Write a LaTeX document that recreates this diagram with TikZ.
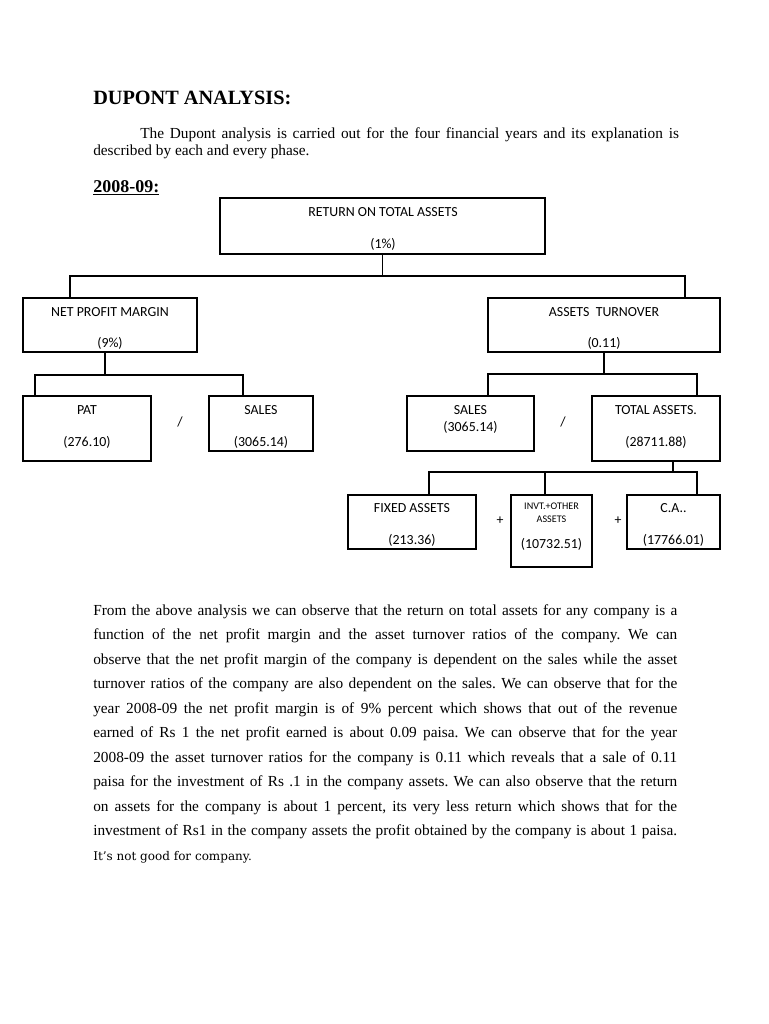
\documentclass[tikz,border=0pt]{standalone}
\usepackage{fontspec}
\setmainfont{Liberation Serif}
\newfontfamily\calfont{Carlito}
\newfontfamily\cambfont{DejaVu Serif}
\usetikzlibrary{fit}
\newcommand\jline[2]{\makebox[#1][s]{#2}}
\frenchspacing
\begin{document}
\begin{tikzpicture}[x=0.75pt,y=-0.75pt,
  box/.style={draw, line width=1pt, inner sep=0pt},
  lbl/.style={inner sep=0pt, font=\calfont\fontsize{10.4}{12}\selectfont},
  tiny/.style={inner sep=0pt, font=\calfont\fontsize{7.6}{9}\selectfont},
  conn/.style={line width=1pt},
  body/.style={inner sep=0pt, anchor=base west, font=\fontsize{11.5}{13.8}\selectfont},
  head/.style={inner sep=0pt, anchor=base west, font=\bfseries\fontsize{15.2}{18}\selectfont},
  year/.style={inner sep=0pt, anchor=base west, font=\bfseries\fontsize{13.5}{16}\selectfont}]
\fill[white] (0,0) rectangle (768,1024);
\useasboundingbox (0,0) rectangle (768,1024);

% headings and intro
\node[head] (title) at (93,104) {DUPONT ANALYSIS:};
\node[body] (intro1) at (140,138) {\jline{404pt}{The Dupont analysis is carried out for the four financial years and its explanation is}};
\node[body] (intro2) at (93,155.5) {described by each and every phase.};
\node[year] (yr) at (93,192) {\underline{2008-09:}};

% boxes
\node[box, fit={(220,198) (545,254)}] (rota) {};
\node[box, fit={(23,298) (197,352)}] (npm) {};
\node[box, fit={(488,298) (720,352)}] (at) {};
\node[box, fit={(23,396) (151,461)}] (pat) {};
\node[box, fit={(209,396) (313,451)}] (salesA) {};
\node[box, fit={(407,396) (534,451)}] (salesB) {};
\node[box, fit={(592,396) (720,461)}] (ta) {};
\node[box, fit={(348,495) (476,549)}] (fa) {};
\node[box, fit={(511,495) (592,567)}] (invt) {};
\node[box, fit={(627,495) (720,549)}] (ca) {};

% labels
\node[lbl] (rotaT) at (383,212) {RETURN ON TOTAL ASSETS};
\node[lbl] (rotaV) at (383,244) {(1\%)};
\node[lbl] (npmT) at (110,312) {NET PROFIT MARGIN};
\node[lbl] (npmV) at (110,343) {(9\%)};
\node[lbl] (atT) at (604,312) {ASSETS\ \ TURNOVER};
\node[lbl] (atV) at (604,343) {(0.11)};
\node[lbl] (patT) at (87,410) {PAT};
\node[lbl] (patV) at (87,442) {(276.10)};
\node[lbl] (salesAT) at (261,410) {SALES};
\node[lbl] (salesAV) at (261,442) {(3065.14)};
\node[lbl] (salesBT) at (470.5,410) {SALES};
\node[lbl] (salesBV) at (470.5,427) {(3065.14)};
\node[lbl] (taT) at (656,410) {TOTAL ASSETS.};
\node[lbl] (taV) at (656,442) {(28711.88)};
\node[lbl] (faT) at (412,508) {FIXED ASSETS};
\node[lbl] (faV) at (412,540) {(213.36)};
\node[tiny] (invtT) at (551.5,506) {INVT.+OTHER};
\node[tiny] (invtT2) at (551.5,519) {ASSETS};
\node[lbl] (invtV) at (551.5,544) {(10732.51)};
\node[lbl] (caT) at (673.5,508) {C.A..};
\node[lbl] (caV) at (673.5,540) {(17766.01)};
\node[lbl] (div1) at (180,422) {/};
\node[lbl] (div2) at (563,422) {/};
\node[lbl] (plus1) at (500,521) {+};
\node[lbl] (plus2) at (618,521) {+};

% connectors
\coordinate (b1l) at (70,276);
\coordinate (b1r) at (685,276);
\draw[conn] (rota.south) -- (rota.south |- b1l);
\draw[conn] (npm.north -| b1l) |- (b1r) -- (at.north -| b1r);

\coordinate (n2) at (105,375);
\coordinate (b2l) at (35,375);
\coordinate (b2r) at (243,375);
\draw[conn] (npm.south -| n2) -- (n2);
\draw[conn] (pat.north -| b2l) |- (b2r) -- (salesA.north -| b2r);

\coordinate (b3l) at (488,374);
\coordinate (b3r) at (697,374);
\draw[conn] (at.south) -- (at.south |- b3l);
\draw[conn] (salesB.north -| b3l) |- (b3r) -- (ta.north -| b3r);

\coordinate (n4) at (673,472);
\coordinate (b4l) at (429,472);
\coordinate (b4m) at (545,472);
\coordinate (b4r) at (697,472);
\draw[conn] (ta.south -| n4) -- (n4);
\draw[conn] (fa.north -| b4l) |- (b4r) -- (ca.north -| b4r);
\draw[conn] (b4m) -- (invt.north -| b4m);

% paragraph
\node[body] (p1) at (93,615) {\jline{438pt}{From the above analysis we can observe that the return on total assets for any company is a}};
\node[body] (p2) at (93,639.5) {\jline{438pt}{function of the net profit margin and the asset turnover ratios of the company. We can}};
\node[body] (p3) at (93,664) {\jline{438pt}{observe that the net profit margin of the company is dependent on the sales while the asset}};
\node[body] (p4) at (93,688.5) {\jline{438pt}{turnover ratios of the company are also dependent on the sales. We can observe that for the}};
\node[body] (p5) at (93,713) {\jline{438pt}{year 2008-09 the net profit margin is of 9\% percent which shows that out of the revenue}};
\node[body] (p6) at (93,737.5) {\jline{438pt}{earned of Rs 1 the net profit earned is about 0.09 paisa. We can observe that for the year}};
\node[body] (p7) at (93,762) {\jline{438pt}{2008-09 the asset turnover ratios for the company is 0.11 which reveals that a sale of 0.11}};
\node[body] (p8) at (93,786.5) {\jline{438pt}{paisa for the investment of Rs .1 in the company assets. We can also observe that the return}};
\node[body] (p9) at (93,811) {\jline{438pt}{on assets for the company is about 1 percent, its very less return which shows that for the}};
\node[body] (p10) at (93,835.5) {\jline{438pt}{investment of Rs1 in the company assets the profit obtained by the company is about 1 paisa.}};
\node[inner sep=0pt, anchor=base west, font=\cambfont\fontsize{9}{11}\selectfont] (p11) at (93,860) {It’s not good for company.};
\end{tikzpicture}
\end{document}
